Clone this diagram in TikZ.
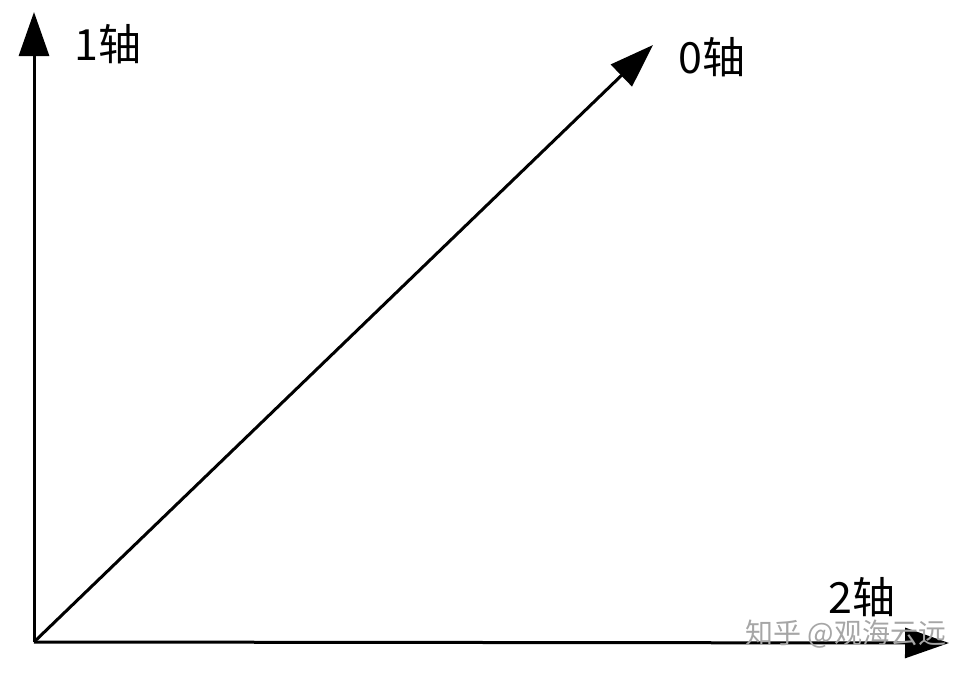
\documentclass[tikz,border=0pt]{standalone}
\usepackage{fontspec}
\newfontfamily\cjk{Noto Sans CJK SC}
\usetikzlibrary{arrows.meta,positioning}
\tikzset{
    axis/.style={line width=3pt,-{Triangle[length=44pt,width=30pt]}},
    lbl/.style={font=\cjk\fontsize{43}{43}\selectfont,inner sep=0pt},
    wmark/.style={font=\cjk\fontsize{28}{28}\selectfont,inner sep=0pt,text=black!35}
}
\begin{document}
\begin{tikzpicture}[x=1pt,y=-1pt]
            \useasboundingbox (0,0) rectangle (977,672);
            \coordinate (O) at (34,642);
            \coordinate (e1) at (34,12);
            \coordinate (e0) at (653,45);
            \coordinate (e2) at (949,643);
            \draw [axis] (O) -- (e1);
            \draw [axis] (O) -- (e0);
            \draw [axis] (O) -- (e2);
            \node[lbl] (l1) at (108,44) {1轴};
            \node[lbl] (l0) at (712,57) {0轴};
            \node[lbl] (l2) at (862,597) {2轴};
            \node[wmark] (wm) at (846,634) {知乎 @观海云远};
        \end{tikzpicture}
\end{document}
